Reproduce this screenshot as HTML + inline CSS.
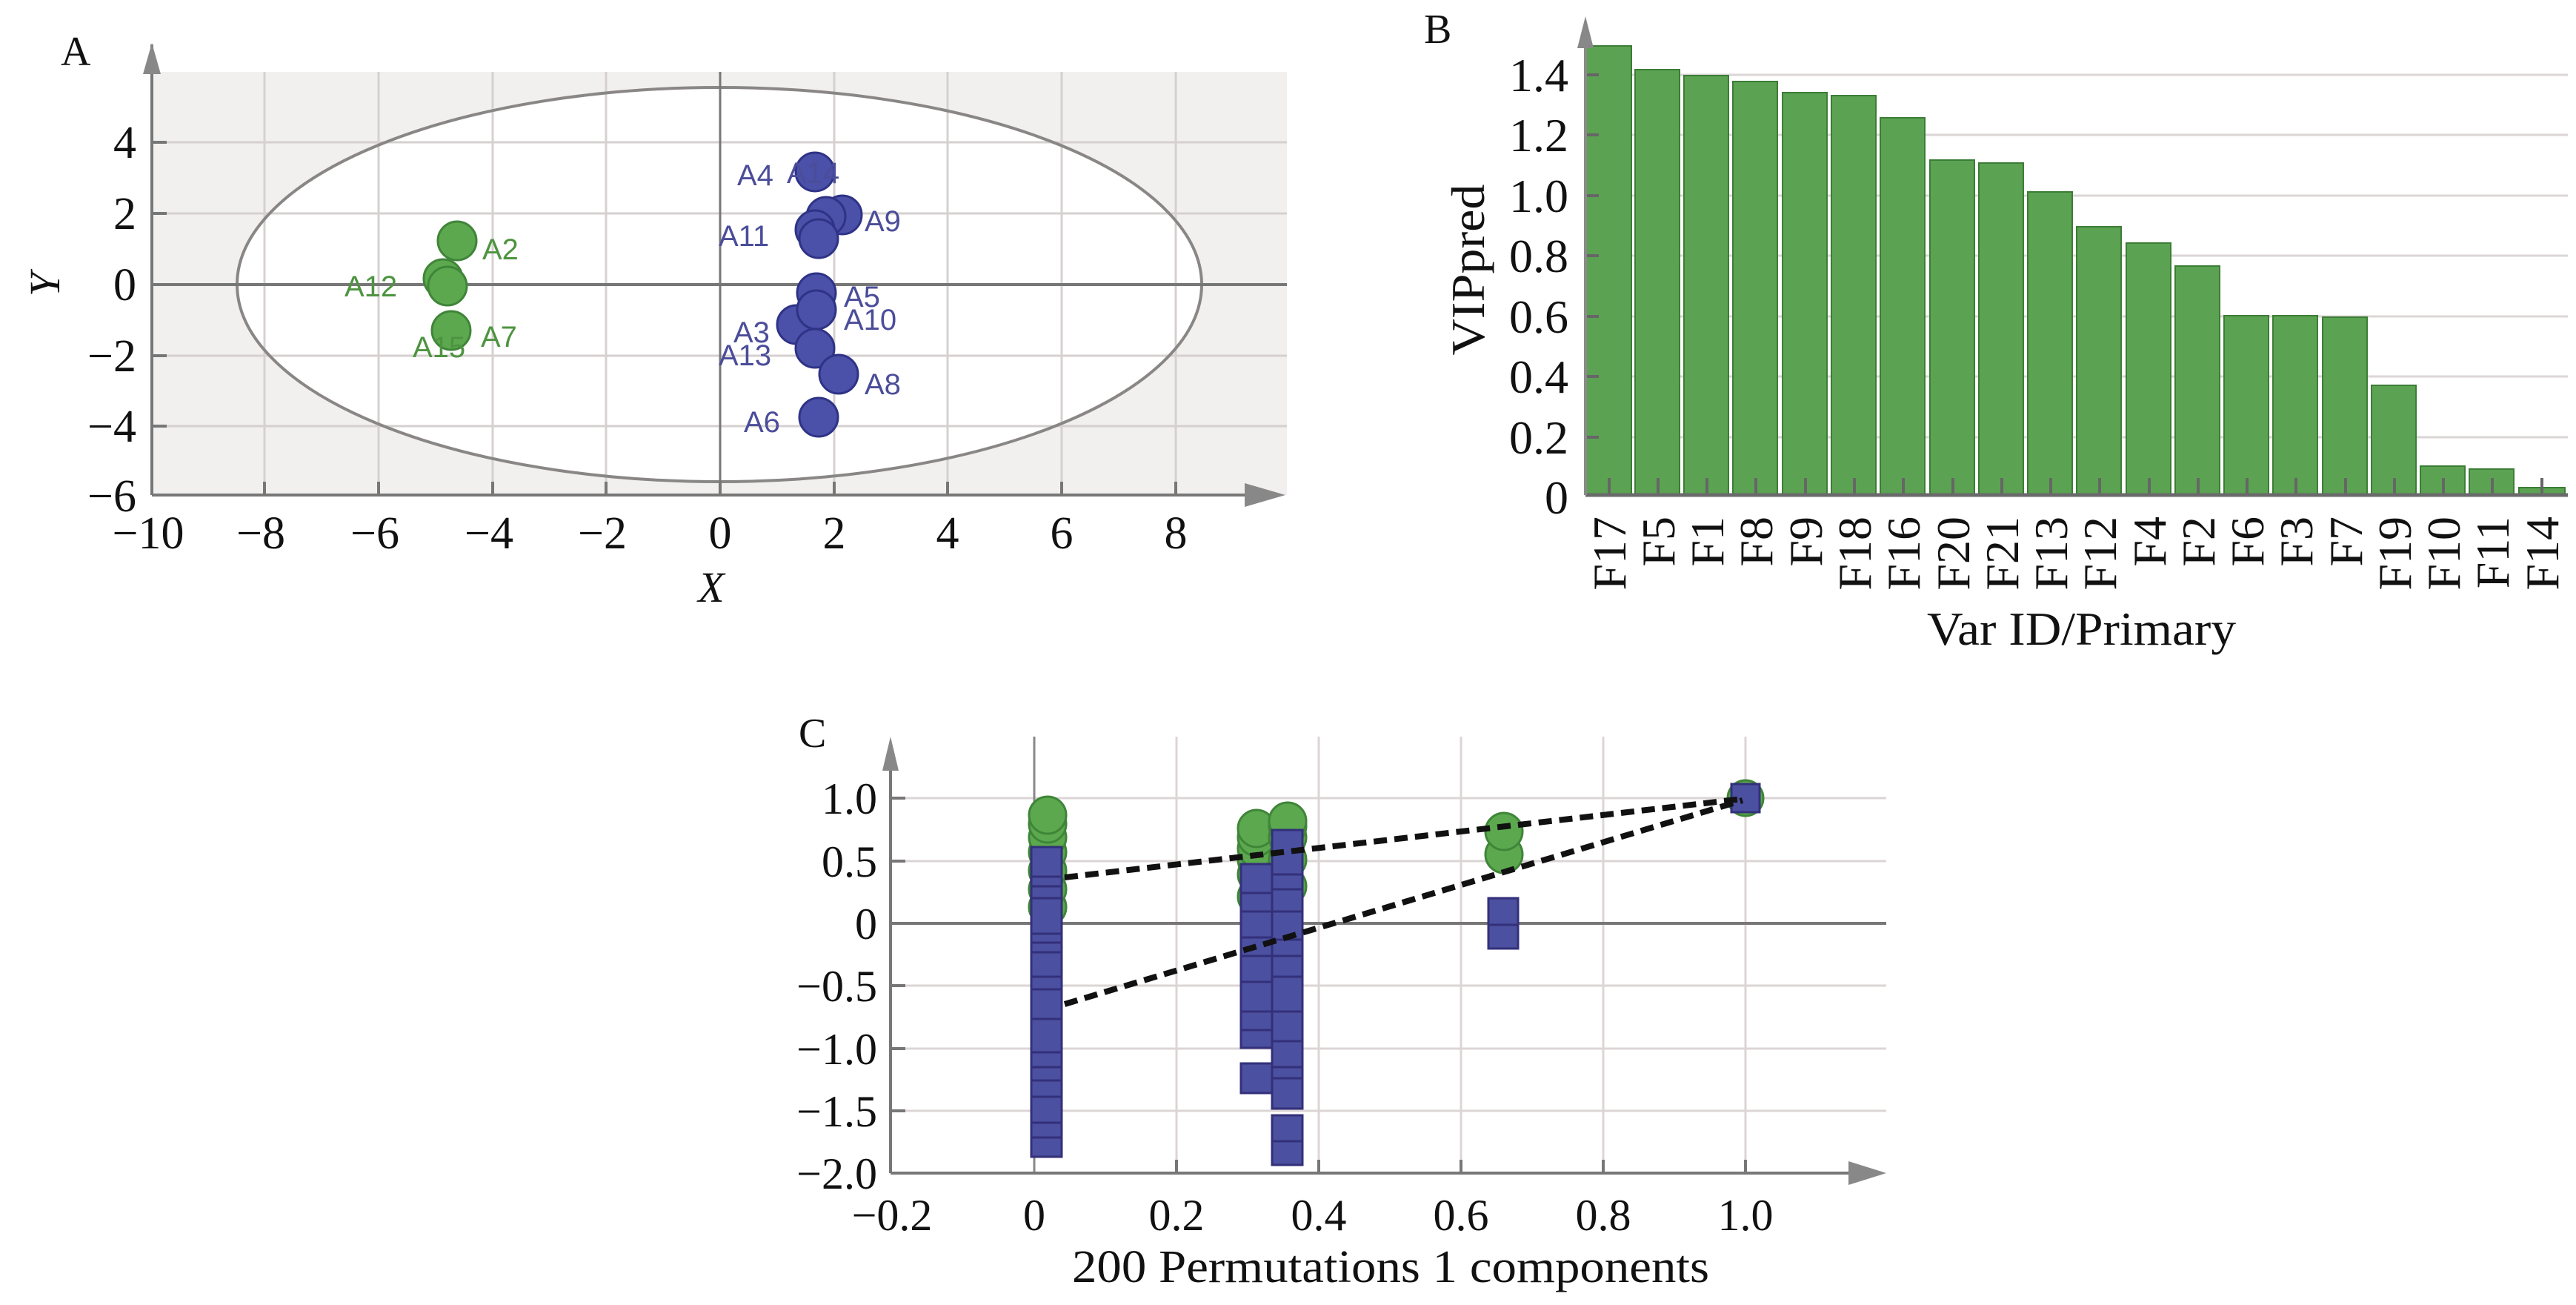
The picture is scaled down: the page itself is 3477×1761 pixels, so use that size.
<!DOCTYPE html>
<html><head><meta charset="utf-8"><style>
html,body{margin:0;padding:0;background:#fff;}
svg{display:block;}
.s{font-family:"Liberation Serif",serif;fill:#111;}
.l{font-family:"Liberation Sans",sans-serif;font-size:40px;}
</style></head><body>
<svg width="3477" height="1761" viewBox="0 0 3477 1761" xmlns="http://www.w3.org/2000/svg">
<!-- PANEL A -->
<text class="s" x="82" y="88" font-size="56">A</text>
<rect x="205" y="97" width="1532" height="571" fill="#f2efef"/>
<ellipse cx="971" cy="384" rx="651" ry="266" fill="#fff"/>
<g stroke="#d6d0d0" stroke-width="3">
<line x1="357" y1="97" x2="357" y2="668"/><line x1="511" y1="97" x2="511" y2="668"/><line x1="665" y1="97" x2="665" y2="668"/><line x1="818" y1="97" x2="818" y2="668"/>
<line x1="1126" y1="97" x2="1126" y2="668"/><line x1="1279" y1="97" x2="1279" y2="668"/><line x1="1433" y1="97" x2="1433" y2="668"/><line x1="1587" y1="97" x2="1587" y2="668"/>
<line x1="205" y1="192" x2="1737" y2="192"/><line x1="205" y1="288" x2="1737" y2="288"/><line x1="205" y1="480" x2="1737" y2="480"/><line x1="205" y1="575" x2="1737" y2="575"/>
</g>
<ellipse cx="971" cy="384" rx="651" ry="266" fill="none" stroke="#8a8686" stroke-width="4"/>
<line x1="205" y1="384" x2="1737" y2="384" stroke="#777" stroke-width="4"/>
<line x1="972" y1="97" x2="972" y2="668" stroke="#777" stroke-width="3"/>
<g stroke="#777" stroke-width="4">
<line x1="205" y1="60" x2="205" y2="668"/><line x1="205" y1="668" x2="1700" y2="668"/>
<line x1="357" y1="650" x2="357" y2="668"/><line x1="511" y1="650" x2="511" y2="668"/><line x1="665" y1="650" x2="665" y2="668"/><line x1="818" y1="650" x2="818" y2="668"/><line x1="972" y1="650" x2="972" y2="668"/>
<line x1="1126" y1="650" x2="1126" y2="668"/><line x1="1279" y1="650" x2="1279" y2="668"/><line x1="1433" y1="650" x2="1433" y2="668"/><line x1="1587" y1="650" x2="1587" y2="668"/>
<line x1="205" y1="192" x2="225" y2="192"/><line x1="205" y1="288" x2="225" y2="288"/><line x1="205" y1="384" x2="225" y2="384"/><line x1="205" y1="480" x2="225" y2="480"/><line x1="205" y1="575" x2="225" y2="575"/>
</g>
<polygon points="193,100 205,58 217,100" fill="#888"/>
<polygon points="1680,652 1735,668 1680,684" fill="#888"/>
<g class="s" font-size="62" text-anchor="end">
<text x="184" y="213">4</text><text x="184" y="309">2</text><text x="184" y="405">0</text><text x="184" y="501">−2</text><text x="184" y="596">−4</text><text x="184" y="690">−6</text>
</g>
<g class="s" font-size="62" text-anchor="middle">
<text x="200" y="740">−10</text><text x="352" y="740">−8</text><text x="506" y="740">−6</text><text x="660" y="740">−4</text><text x="813" y="740">−2</text><text x="972" y="740">0</text>
<text x="1126" y="740">2</text><text x="1279" y="740">4</text><text x="1433" y="740">6</text><text x="1587" y="740">8</text>
</g>
<text class="s" x="960" y="812" font-size="58" font-style="italic" text-anchor="middle">X</text>
<text class="s" transform="translate(80,384) rotate(-90)" font-size="58" font-style="italic" text-anchor="middle">Y</text>
<g fill="#5ca84f" stroke="#3f8538" stroke-width="3">
<circle cx="617" cy="325" r="26"/><circle cx="598" cy="376" r="26"/><circle cx="604" cy="386" r="26"/><circle cx="609" cy="446" r="26"/>
</g>
<g class="l" fill="#4e9440">
<text x="651" y="350">A2</text><text x="465" y="400">A12</text><text x="649" y="468">A7</text><text x="557" y="482">A15</text>
</g>
<g fill="#4b50a8" stroke="#2f3386" stroke-width="3">
<circle cx="1100" cy="232" r="26"/><circle cx="1137" cy="290" r="26"/><circle cx="1115" cy="292" r="26"/><circle cx="1100" cy="310" r="26"/><circle cx="1105" cy="322" r="26"/>
<circle cx="1102" cy="395" r="26"/><circle cx="1075" cy="438" r="26"/><circle cx="1102" cy="418" r="26"/><circle cx="1100" cy="470" r="26"/><circle cx="1132" cy="505" r="26"/><circle cx="1105" cy="563" r="26"/>
</g>
<g class="l" fill="#4b4d9a">
<text x="995" y="250">A4</text><text x="1062" y="247">A14</text><text x="1167" y="312">A9</text><text x="970" y="332">A11</text><text x="1139" y="414">A5</text>
<text x="1139" y="445">A10</text><text x="990" y="462">A3</text><text x="970" y="493">A13</text><text x="1167" y="532">A8</text><text x="1004" y="583">A6</text>
</g>
<!-- PANEL B -->
<text class="s" x="1922" y="58" font-size="56">B</text>
<g stroke="#dcd6d6" stroke-width="3">
<line x1="2140" y1="101" x2="3466" y2="101"/><line x1="2140" y1="182" x2="3466" y2="182"/><line x1="2140" y1="264" x2="3466" y2="264"/><line x1="2140" y1="345" x2="3466" y2="345"/>
<line x1="2140" y1="427" x2="3466" y2="427"/><line x1="2140" y1="508" x2="3466" y2="508"/><line x1="2140" y1="590" x2="3466" y2="590"/>
</g>
<g fill="#5ba352" stroke="#3c7d36" stroke-width="2">
<rect x="2141" y="62" width="61" height="606"/>
<rect x="2207" y="94" width="60" height="574"/>
<rect x="2273" y="102" width="60" height="566"/>
<rect x="2339" y="110" width="60" height="558"/>
<rect x="2406" y="125" width="60" height="543"/>
<rect x="2472" y="129" width="60" height="539"/>
<rect x="2538" y="159" width="60" height="509"/>
<rect x="2605" y="216" width="60" height="452"/>
<rect x="2671" y="220" width="60" height="448"/>
<rect x="2737" y="259" width="60" height="409"/>
<rect x="2803" y="306" width="60" height="362"/>
<rect x="2870" y="328" width="60" height="340"/>
<rect x="2936" y="359" width="60" height="309"/>
<rect x="3002" y="426" width="60" height="242"/>
<rect x="3068" y="426" width="60" height="242"/>
<rect x="3135" y="428" width="60" height="240"/>
<rect x="3201" y="520" width="60" height="148"/>
<rect x="3267" y="629" width="60" height="39"/>
<rect x="3333" y="633" width="60" height="35"/>
<rect x="3400" y="658" width="62" height="10"/>
</g>
<g stroke="#666" stroke-width="4">
<line x1="2172" y1="645" x2="2172" y2="668"/><line x1="2238" y1="645" x2="2238" y2="668"/><line x1="2304" y1="645" x2="2304" y2="668"/><line x1="2370" y1="645" x2="2370" y2="668"/><line x1="2437" y1="645" x2="2437" y2="668"/>
<line x1="2503" y1="645" x2="2503" y2="668"/><line x1="2569" y1="645" x2="2569" y2="668"/><line x1="2636" y1="645" x2="2636" y2="668"/><line x1="2702" y1="645" x2="2702" y2="668"/><line x1="2768" y1="645" x2="2768" y2="668"/>
<line x1="2834" y1="645" x2="2834" y2="668"/><line x1="2901" y1="645" x2="2901" y2="668"/><line x1="2967" y1="645" x2="2967" y2="668"/><line x1="3033" y1="645" x2="3033" y2="668"/><line x1="3099" y1="645" x2="3099" y2="668"/>
<line x1="3166" y1="645" x2="3166" y2="668"/><line x1="3232" y1="645" x2="3232" y2="668"/><line x1="3298" y1="645" x2="3298" y2="668"/><line x1="3364" y1="645" x2="3364" y2="668"/><line x1="3431" y1="645" x2="3431" y2="668"/>
<line x1="2140" y1="101" x2="2158" y2="101"/><line x1="2140" y1="182" x2="2158" y2="182"/><line x1="2140" y1="264" x2="2158" y2="264"/><line x1="2140" y1="345" x2="2158" y2="345"/><line x1="2140" y1="427" x2="2158" y2="427"/><line x1="2140" y1="508" x2="2158" y2="508"/><line x1="2140" y1="590" x2="2158" y2="590"/>
</g>
<line x1="2140" y1="668" x2="3466" y2="668" stroke="#6a6a6a" stroke-width="5"/>
<line x1="2140" y1="60" x2="2140" y2="668" stroke="#8a8a8a" stroke-width="4"/>
<polygon points="2129,65 2140,22 2151,65" fill="#888"/>
<g class="s" font-size="64" text-anchor="end">
<text x="2117" y="123">1.4</text><text x="2117" y="204">1.2</text><text x="2117" y="286">1.0</text><text x="2117" y="367">0.8</text><text x="2117" y="449">0.6</text><text x="2117" y="530">0.4</text><text x="2117" y="612">0.2</text><text x="2117" y="693">0</text>
</g>
<g class="s" font-size="64" text-anchor="end">
<text transform="translate(2194,697) rotate(-90)">F17</text>
<text transform="translate(2260,697) rotate(-90)">F5</text>
<text transform="translate(2326,697) rotate(-90)">F1</text>
<text transform="translate(2392,697) rotate(-90)">F8</text>
<text transform="translate(2459,697) rotate(-90)">F9</text>
<text transform="translate(2525,697) rotate(-90)">F18</text>
<text transform="translate(2591,697) rotate(-90)">F16</text>
<text transform="translate(2658,697) rotate(-90)">F20</text>
<text transform="translate(2724,697) rotate(-90)">F21</text>
<text transform="translate(2790,697) rotate(-90)">F13</text>
<text transform="translate(2856,697) rotate(-90)">F12</text>
<text transform="translate(2923,697) rotate(-90)">F4</text>
<text transform="translate(2989,697) rotate(-90)">F2</text>
<text transform="translate(3055,697) rotate(-90)">F6</text>
<text transform="translate(3121,697) rotate(-90)">F3</text>
<text transform="translate(3188,697) rotate(-90)">F7</text>
<text transform="translate(3254,697) rotate(-90)">F19</text>
<text transform="translate(3320,697) rotate(-90)">F10</text>
<text transform="translate(3386,697) rotate(-90)">F11</text>
<text transform="translate(3453,697) rotate(-90)">F14</text>
</g>
<text class="s" transform="translate(2003,364) rotate(-90)" font-size="64" text-anchor="middle" textLength="231" lengthAdjust="spacingAndGlyphs">VIPpred</text>
<text class="s" x="2601" y="870" font-size="64" textLength="417" lengthAdjust="spacingAndGlyphs">Var ID/Primary</text>
<!-- PANEL C -->
<text class="s" x="1078" y="1008" font-size="56">C</text>
<g stroke="#dcd5d5" stroke-width="3">
<line x1="1588" y1="994" x2="1588" y2="1583"/><line x1="1780" y1="994" x2="1780" y2="1583"/><line x1="1972" y1="994" x2="1972" y2="1583"/><line x1="2164" y1="994" x2="2164" y2="1583"/><line x1="2356" y1="994" x2="2356" y2="1583"/>
<line x1="1202" y1="1077" x2="2546" y2="1077"/><line x1="1202" y1="1162" x2="2546" y2="1162"/><line x1="1202" y1="1330" x2="2546" y2="1330"/><line x1="1202" y1="1415" x2="2546" y2="1415"/><line x1="1202" y1="1499" x2="2546" y2="1499"/>
</g>
<line x1="1396" y1="994" x2="1396" y2="1583" stroke="#888" stroke-width="3"/>
<line x1="1202" y1="1246" x2="2546" y2="1246" stroke="#777" stroke-width="4"/>
<g stroke="#777" stroke-width="4">
<line x1="1202" y1="1010" x2="1202" y2="1583"/><line x1="1202" y1="1583" x2="2510" y2="1583"/>
<line x1="1588" y1="1565" x2="1588" y2="1583"/><line x1="1780" y1="1565" x2="1780" y2="1583"/><line x1="1972" y1="1565" x2="1972" y2="1583"/><line x1="2164" y1="1565" x2="2164" y2="1583"/><line x1="2356" y1="1565" x2="2356" y2="1583"/>
<line x1="1202" y1="1077" x2="1222" y2="1077"/><line x1="1202" y1="1162" x2="1222" y2="1162"/><line x1="1202" y1="1246" x2="1222" y2="1246"/><line x1="1202" y1="1330" x2="1222" y2="1330"/><line x1="1202" y1="1415" x2="1222" y2="1415"/><line x1="1202" y1="1499" x2="1222" y2="1499"/>
</g>
<polygon points="1191,1040 1202,994 1213,1040" fill="#888"/>
<polygon points="2495,1567 2546,1583 2495,1599" fill="#888"/>
<g class="s" font-size="60" text-anchor="end">
<text x="1184" y="1098">1.0</text><text x="1184" y="1183">0.5</text><text x="1184" y="1267">0</text><text x="1184" y="1351">−0.5</text><text x="1184" y="1436">−1.0</text><text x="1184" y="1520">−1.5</text><text x="1184" y="1604">−2.0</text>
</g>
<g class="s" font-size="60" text-anchor="middle">
<text x="1204" y="1660">−0.2</text><text x="1396" y="1660">0</text><text x="1588" y="1660">0.2</text><text x="1780" y="1660">0.4</text><text x="1972" y="1660">0.6</text><text x="2164" y="1660">0.8</text><text x="2356" y="1660">1.0</text>
</g>
<text class="s" x="1447" y="1730" font-size="62" textLength="860" lengthAdjust="spacingAndGlyphs">200 Permutations 1 components</text>
<g fill="#5ca84f" stroke="#3f8538" stroke-width="3">
<circle cx="1414" cy="1224" r="25"/><circle cx="1414" cy="1200" r="25"/><circle cx="1414" cy="1175" r="25"/><circle cx="1414" cy="1150" r="25"/><circle cx="1414" cy="1130" r="25"/><circle cx="1414" cy="1112" r="25"/><circle cx="1414" cy="1100" r="25"/>
<circle cx="1696" cy="1210" r="25"/><circle cx="1696" cy="1180" r="25"/><circle cx="1696" cy="1160" r="25"/><circle cx="1696" cy="1145" r="25"/><circle cx="1696" cy="1130" r="25"/><circle cx="1696" cy="1118" r="25"/>
<circle cx="1738" cy="1196" r="25"/><circle cx="1738" cy="1160" r="25"/><circle cx="1738" cy="1130" r="25"/><circle cx="1738" cy="1115" r="25"/><circle cx="1738" cy="1108" r="25"/>
<circle cx="2030" cy="1153" r="25"/><circle cx="2030" cy="1122" r="25"/>
<circle cx="2356" cy="1077" r="24"/>
</g>
<g fill="#4b50a0" stroke="#33307a" stroke-width="3">
<rect x="1392" y="1143" width="41" height="418"/>
<rect x="1675" y="1166" width="42" height="248"/>
<rect x="1675" y="1435" width="42" height="40"/>
<rect x="1717" y="1120" width="41" height="376"/>
<rect x="1717" y="1505" width="41" height="67"/>
<rect x="2009" y="1212" width="40" height="68"/>
<rect x="2337" y="1058" width="38" height="38"/>
</g>
<g stroke="#33307a" stroke-width="3">
<line x1="1392" y1="1183" x2="1433" y2="1183"/><line x1="1392" y1="1196" x2="1433" y2="1196"/><line x1="1392" y1="1212" x2="1433" y2="1212"/><line x1="1392" y1="1260" x2="1433" y2="1260"/><line x1="1392" y1="1272" x2="1433" y2="1272"/><line x1="1392" y1="1285" x2="1433" y2="1285"/><line x1="1392" y1="1318" x2="1433" y2="1318"/><line x1="1392" y1="1335" x2="1433" y2="1335"/><line x1="1392" y1="1375" x2="1433" y2="1375"/><line x1="1392" y1="1420" x2="1433" y2="1420"/><line x1="1392" y1="1440" x2="1433" y2="1440"/><line x1="1392" y1="1458" x2="1433" y2="1458"/><line x1="1392" y1="1480" x2="1433" y2="1480"/><line x1="1392" y1="1515" x2="1433" y2="1515"/><line x1="1392" y1="1535" x2="1433" y2="1535"/>
<line x1="1675" y1="1205" x2="1717" y2="1205"/><line x1="1675" y1="1230" x2="1717" y2="1230"/><line x1="1675" y1="1265" x2="1717" y2="1265"/><line x1="1675" y1="1290" x2="1717" y2="1290"/><line x1="1675" y1="1325" x2="1717" y2="1325"/><line x1="1675" y1="1365" x2="1717" y2="1365"/><line x1="1675" y1="1390" x2="1717" y2="1390"/>
<line x1="1717" y1="1180" x2="1758" y2="1180"/><line x1="1717" y1="1200" x2="1758" y2="1200"/><line x1="1717" y1="1230" x2="1758" y2="1230"/><line x1="1717" y1="1268" x2="1758" y2="1268"/><line x1="1717" y1="1290" x2="1758" y2="1290"/><line x1="1717" y1="1318" x2="1758" y2="1318"/><line x1="1717" y1="1365" x2="1758" y2="1365"/><line x1="1717" y1="1405" x2="1758" y2="1405"/><line x1="1717" y1="1440" x2="1758" y2="1440"/><line x1="1717" y1="1455" x2="1758" y2="1455"/><line x1="1717" y1="1540" x2="1758" y2="1540"/>
<line x1="2009" y1="1248" x2="2049" y2="1248"/>
</g>
<g stroke="#111" stroke-width="8" stroke-dasharray="18,10" fill="none">
<line x1="1437" y1="1184" x2="2352" y2="1078"/>
<line x1="1437" y1="1355" x2="2352" y2="1080"/>
</g>
</svg>
</body></html>
